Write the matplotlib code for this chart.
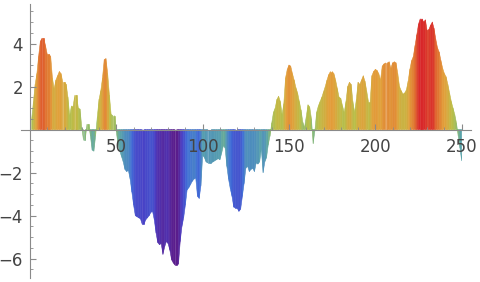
import matplotlib
matplotlib.use('Agg')
import matplotlib.pyplot as plt
from matplotlib.colors import LinearSegmentedColormap, Normalize
from matplotlib.collections import PolyCollection
from matplotlib.ticker import MultipleLocator

# profile values, one per position 1..250
values = [
    0.5, 1.3, 2.1, 2.6, 3.4, 4.1, 4.25, 4.25, 3.9, 3.5,
    3.5, 3.4, 2.4, 1.9, 2.3, 2.5, 2.7, 2.6, 2.2, 2.2,
    2.1, 1.5, 0.65, 1.1, 1.1, 1.6, 1.6, 1.0, 0.95, 0.1,
    -0.5, -0.5, 0.25, 0.25, -0.3, -0.95, -1.0, -0.3, 0.6, 1.4,
    1.8, 2.4, 3.25, 3.3, 2.6, 1.6, 0.7, 0.65, 0.65, -0.1,
    -0.7, -1.0, -1.25, -1.5, -1.85, -1.95, -1.9, -2.3, -2.9, -3.5,
    -4.0, -4.05, -4.1, -4.15, -4.4, -4.4, -4.2, -4.1, -4.0, -3.85,
    -3.8, -4.2, -4.8, -5.25, -5.35, -5.3, -5.8, -5.45, -5.2, -5.3,
    -5.6, -6.05, -6.2, -6.3, -6.3, -6.25, -5.2, -4.5, -4.1, -3.5,
    -2.8, -2.7, -2.55, -2.4, -2.3, -2.25, -3.1, -3.2, -2.6, -1.2,
    -1.3, -1.5, -1.55, -1.55, -1.55, -1.5, -1.45, -1.4, -1.35, -1.4,
    -1.1, -0.75, -0.85, -1.7, -2.3, -2.75, -3.1, -3.6, -3.65, -3.65,
    -3.8, -3.7, -3.1, -2.5, -1.8, -1.7, -1.95, -1.85, -1.8, -1.95,
    -1.55, -1.6, -1.5, -0.9, -2.0, -1.5, -1.3, -0.7, -0.3, 0.3,
    0.8, 1.0, 1.4, 1.55, 1.3, 0.7, 1.2, 2.4, 2.8, 3.0,
    2.95, 2.6, 2.3, 1.95, 1.7, 1.3, 0.9, 0.35, 0.1, 0.6,
    1.15, 1.05, 0.5, -0.65, -0.05, 0.8, 1.1, 1.3, 1.5, 1.75,
    2.0, 2.3, 2.55, 2.7, 2.7, 2.6, 2.3, 1.9, 1.5, 1.45,
    1.1, 0.8, 1.3, 2.0, 2.2, 2.1, 1.3, 0.8, 1.4, 2.2,
    2.1, 2.3, 2.5, 2.25, 1.8, 1.3, 1.3, 2.5, 2.7, 2.8,
    2.75, 2.6, 2.3, 2.95, 3.05, 3.1, 3.1, 3.15, 2.85, 3.1,
    3.15, 3.1, 2.6, 2.0, 1.8, 1.65, 1.7, 1.85, 2.25, 2.8,
    3.2, 3.4, 3.9, 4.4, 4.9, 5.15, 5.15, 5.0, 5.1, 4.6,
    4.65, 4.85, 5.0, 4.7, 4.2, 3.8, 3.6, 3.2, 2.85, 2.6,
    2.45, 2.1, 1.7, 1.3, 1.0, 0.7, 0.3, -0.3, -0.85, -1.45,
]
positions = list(range(1, len(values) + 1))

x_ticks = [50, 100, 150, 200, 250]
y_ticks = [-6, -4, -2, 2, 4]

rainbow = LinearSegmentedColormap.from_list('rainbow_mma', [
    (0.00, '#5a1d8c'),
    (0.15, '#4a3dc4'),
    (0.30, '#3f6ed8'),
    (0.45, '#58a3aa'),
    (0.55, '#8fbc6c'),
    (0.65, '#bcbd46'),
    (0.78, '#e2a03a'),
    (0.90, '#e06a2e'),
    (1.00, '#d8262a'),
])
norm = Normalize(vmin=min(values), vmax=max(values))

fig = plt.figure(figsize=(4.8, 2.82), dpi=100)
ax = fig.add_axes([21 / 480, 4 / 282, 450 / 480, 274 / 282])

# one filled strip per segment, coloured by its height
polys, cols = [], []
for i in range(len(values) - 1):
    x0, x1 = positions[i], positions[i + 1]
    y0, y1 = values[i], values[i + 1]
    polys.append([(x0, 0), (x0, y0), (x1, y1), (x1, 0)])
    cols.append(rainbow(norm((y0 + y1) / 2)))
pc = PolyCollection(polys, facecolors=cols, edgecolors=cols, linewidths=0.4)
ax.add_collection(pc)

ax.set_xlim(-5.2, 255.4)
ax.set_ylim(-6.9, 5.84)

grey = '#8a8a8a'
for side in ['top', 'right']:
    ax.spines[side].set_visible(False)
ax.spines['left'].set_position(('data', 0))
ax.spines['bottom'].set_position(('data', 0))
ax.spines['left'].set_color(grey)
ax.spines['bottom'].set_color(grey)

ax.set_xticks(x_ticks)
ax.set_yticks(y_ticks)
ax.xaxis.set_minor_locator(MultipleLocator(10))
ax.yaxis.set_minor_locator(MultipleLocator(0.5))
ax.tick_params(which='both', direction='in', color=grey, labelcolor='#444444',
               labelsize=12)
ax.tick_params(which='major', length=4, width=0.8)
ax.tick_params(which='minor', length=2.5, width=0.6)
ax.tick_params(axis='x', pad=6)
ax.tick_params(axis='y', pad=5)

ax.patch.set_alpha(0)
fig.savefig('out.png', dpi=100)
